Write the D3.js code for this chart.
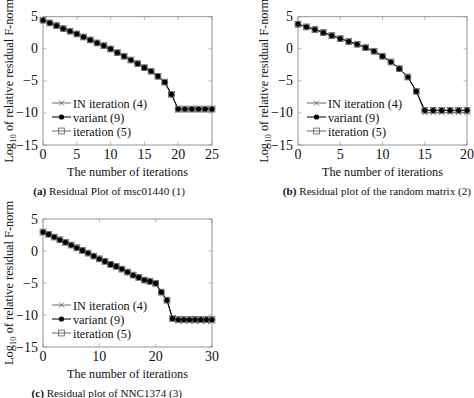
<!DOCTYPE html>
<html>
<head>
<meta charset="utf-8">
<script src="https://cdn.jsdelivr.net/npm/d3@7"></script>
<style>
  body { margin: 0; background: #fff; }
  svg text { font-family: "Liberation Serif", serif; fill: #111; }
</style>
</head>
<body>
<div id="chart"></div>
<script>
// ----- Data -----
const seriesNames = ["IN iteration (4)", "variant (9)", "iteration (5)"];

// (a) msc01440, iterations 0..25
const inA      = [4.45, 4.03, 3.62, 3.15, 2.73, 2.31, 1.84, 1.38, 0.91, 0.5, -0.03, -0.6, -1.17, -1.75, -2.3, -2.94, -3.5, -4.3, -5.2, -7.1, -9.5, -9.5, -9.5, -9.5, -9.5, -9.5];
const variantA = [4.45, 4.03, 3.62, 3.15, 2.73, 2.31, 1.84, 1.38, 0.91, 0.5, -0.03, -0.6, -1.17, -1.75, -2.3, -2.94, -3.5, -4.3, -5.2, -7.1, -9.4, -9.4, -9.4, -9.4, -9.4, -9.4];
const iterA    = [4.45, 4.03, 3.62, 3.15, 2.73, 2.31, 1.84, 1.38, 0.91, 0.5, -0.03, -0.6, -1.17, -1.75, -2.3, -2.94, -3.5, -4.3, -5.2, -7.1, -9.4, -9.4, -9.4, -9.4, -9.4, -9.4];

// (b) random matrix, iterations 0..20
const inB      = [3.83, 3.41, 3.0, 2.53, 2.06, 1.59, 1.13, 0.7, 0.19, -0.39, -1.17, -2.06, -3.1, -4.4, -6.64, -9.95, -9.95, -9.95, -9.95, -9.95, -9.95];
const variantB = [3.83, 3.41, 3.0, 2.53, 2.06, 1.59, 1.13, 0.7, 0.19, -0.39, -1.17, -2.06, -3.1, -4.4, -6.64, -9.6, -9.6, -9.6, -9.6, -9.6, -9.6];
const iterB    = [3.83, 3.41, 3.0, 2.53, 2.06, 1.59, 1.13, 0.7, 0.19, -0.39, -1.17, -2.06, -3.1, -4.4, -6.64, -9.6, -9.6, -9.6, -9.6, -9.6, -9.6];

// (c) NNC1374, iterations 0..30
const inC      = [2.96, 2.6, 2.18, 1.76, 1.35, 0.93, 0.51, 0.09, -0.33, -0.8, -1.22, -1.63, -2.1, -2.41, -2.83, -3.3, -3.77, -4.13, -4.55, -4.76, -5.05, -6.43, -7.69, -10.55, -11.0, -11.0, -11.0, -11.0, -11.0, -11.0, -11.0];
const variantC = [2.96, 2.6, 2.18, 1.76, 1.35, 0.93, 0.51, 0.09, -0.33, -0.8, -1.22, -1.63, -2.1, -2.41, -2.83, -3.3, -3.77, -4.13, -4.55, -4.76, -5.05, -6.43, -7.69, -10.55, -10.7, -10.7, -10.7, -10.7, -10.7, -10.7, -10.7];
const iterC    = [2.96, 2.6, 2.18, 1.76, 1.35, 0.93, 0.51, 0.09, -0.33, -0.8, -1.22, -1.63, -2.1, -2.41, -2.83, -3.3, -3.77, -4.13, -4.55, -4.76, -5.05, -6.43, -7.69, -10.55, -10.7, -10.7, -10.7, -10.7, -10.7, -10.7, -10.7];

const yTicks = [5, 0, -5, -10, -15];
const xTicksA = [0, 5, 10, 15, 20, 25];
const xTicksB = [0, 5, 10, 15, 20];
const xTicksC = [0, 10, 20, 30];

const xTitle = "The number of iterations";
const yTitle = "of relative residual F-norm";

// ----- Config -----
const width = 474;
const height = 398;
const boxColor = "#8a8a8a";
const grey = "#6a6a6a";

const panels = [
  { left: 43,  top: 16.7, bottom: 145, xmax: 25, xticks: xTicksA, series: [inA, variantA, iterA],
    tag: "(a)", caption: " Residual Plot of msc01440 (1)", capRight: 185 },
  { left: 298, top: 16.7, bottom: 145, xmax: 20, xticks: xTicksB, series: [inB, variantB, iterB],
    tag: "(b)", caption: " Residual plot of the random matrix (2)", capRight: 471 },
  { left: 43,  top: 219,  bottom: 347, xmax: 30, xticks: xTicksC, series: [inC, variantC, iterC],
    tag: "(c)", caption: " Residual plot of NNC1374 (3)", capRight: 182 }
];
const boxW = 169;
let capSize = null;

const svg = d3.select("#chart")
  .append("svg")
  .attr("width", width)
  .attr("height", height)
  .attr("font-family", "Liberation Serif, serif");

// scale a text's font so it takes the wanted width
function fit(sel, base, target) {
  const w = sel.node().getComputedTextLength();
  const size = base * target / w;
  sel.attr("font-size", size);
  return size;
}

// marker drawers
function markX(g, x, y) {
  const s = 2.6;
  g.append("path")
    .attr("d", `M${x - s},${y - s}L${x + s},${y + s}M${x - s},${y + s}L${x + s},${y - s}`)
    .attr("stroke", grey).attr("stroke-width", 0.9).attr("fill", "none");
}
function markDot(g, x, y) {
  g.append("circle").attr("cx", x).attr("cy", y).attr("r", 2.6).attr("fill", "#000");
}
function markSquare(g, x, y) {
  const s = 2.9;
  g.append("rect").attr("x", x - s).attr("y", y - s).attr("width", 2 * s).attr("height", 2 * s)
    .attr("fill", "none").attr("stroke", grey).attr("stroke-width", 0.9);
}
const styles = [
  { color: grey, mark: markX },
  { color: "#000", mark: markDot },
  { color: grey, mark: markSquare }
];
// draw order: IN, iteration, variant
const drawOrder = [0, 2, 1];

function drawPanel(p) {
  const g = svg.append("g");
  const x = d3.scaleLinear().domain([0, p.xmax]).range([p.left, p.left + boxW]);
  const y = d3.scaleLinear().domain([-15, 5]).range([p.bottom, p.top]);

  // inward ticks on all sides
  const tl = 3.5;
  p.xticks.forEach(t => {
    g.append("line").attr("x1", x(t)).attr("x2", x(t)).attr("y1", p.bottom).attr("y2", p.bottom - tl)
      .attr("stroke", boxColor).attr("stroke-width", 0.6);
    g.append("line").attr("x1", x(t)).attr("x2", x(t)).attr("y1", p.top).attr("y2", p.top + tl)
      .attr("stroke", boxColor).attr("stroke-width", 0.6);
  });
  yTicks.forEach(t => {
    g.append("line").attr("x1", p.left).attr("x2", p.left + tl).attr("y1", y(t)).attr("y2", y(t))
      .attr("stroke", boxColor).attr("stroke-width", 0.6);
    g.append("line").attr("x1", p.left + boxW).attr("x2", p.left + boxW - tl).attr("y1", y(t)).attr("y2", y(t))
      .attr("stroke", boxColor).attr("stroke-width", 0.6);
  });

  // box
  g.append("rect")
    .attr("x", p.left).attr("y", p.top)
    .attr("width", boxW).attr("height", p.bottom - p.top)
    .attr("fill", "none").attr("stroke", boxColor).attr("stroke-width", 0.9);

  // tick labels
  g.selectAll(".xl").data(p.xticks).join("text")
    .attr("x", d => x(d)).attr("y", p.bottom + 14)
    .attr("text-anchor", "middle").attr("font-size", 14)
    .text(d => d);
  g.selectAll(".yl").data(yTicks).join("text")
    .attr("x", p.left - 5).attr("y", d => y(d) + 4.5)
    .attr("text-anchor", "end").attr("font-size", 14)
    .text(d => d < 0 ? "\u2212" + Math.abs(d) : d);

  // axis titles
  const xt = g.append("text")
    .attr("x", p.left + boxW / 2).attr("y", p.bottom + 31)
    .attr("text-anchor", "middle").attr("font-size", 14)
    .text(xTitle);
  fit(xt, 14, 121);

  const ymid = (p.top + p.bottom) / 2;
  const yt = g.append("text")
    .attr("transform", `translate(${p.left - 30},${ymid}) rotate(-90)`)
    .attr("text-anchor", "middle").attr("font-size", 14);
  yt.append("tspan").text("Log");
  yt.append("tspan").attr("dy", 3).attr("font-size", "0.72em").text("10");
  yt.append("tspan").attr("dy", -3).text(" " + yTitle);
  fit(yt, 14, 164);

  // caption, one size for all three
  const cap = g.append("text")
    .attr("x", p.capRight).attr("y", p.bottom + 50)
    .attr("text-anchor", "end").attr("font-size", capSize || 12.5);
  cap.append("tspan").attr("font-weight", "bold").text(p.tag);
  cap.append("tspan").text(p.caption);
  if (!capSize) capSize = fit(cap, 12.5, 152);

  // series
  const line = d3.line().x((d, i) => x(i)).y(d => y(d));
  drawOrder.forEach(k => {
    const vals = p.series[k];
    g.append("path").datum(vals)
      .attr("d", line)
      .attr("fill", "none")
      .attr("stroke", styles[k].color)
      .attr("stroke-width", 1);
  });
  drawOrder.forEach(k => {
    p.series[k].forEach((v, i) => styles[k].mark(g, x(i), y(v)));
  });

  // legend
  const rows = [-42, -28, -14];
  let legSize = 13.5;
  seriesNames.forEach((name, k) => {
    const ly = p.bottom + rows[k];
    const lx = p.left + 9;
    g.append("line").attr("x1", lx).attr("x2", lx + 19).attr("y1", ly).attr("y2", ly)
      .attr("stroke", styles[k].color).attr("stroke-width", 1);
    styles[k].mark(g, lx + 9.5, ly);
    const t = g.append("text").attr("x", lx + 21).attr("y", ly + 4.5)
      .attr("font-size", legSize).text(name);
    if (k === 0) legSize = fit(t, 13.5, 74);
  });
}

panels.forEach(drawPanel);
</script>
</body>
</html>
